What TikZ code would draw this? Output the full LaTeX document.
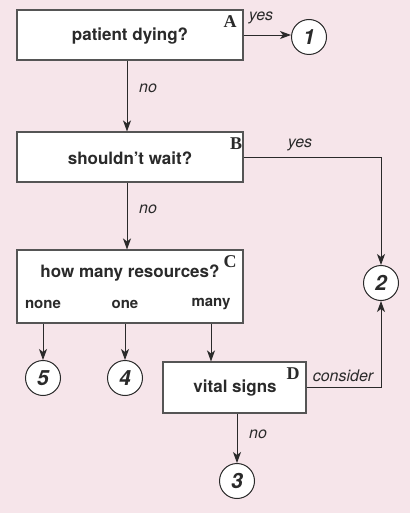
\documentclass[tikz,border=0pt]{standalone}
\usepackage{fontspec}
\setmainfont{TeX Gyre Heros}
\newfontfamily\letterfont{Liberation Serif}
\usetikzlibrary{arrows.meta}
\definecolor{bg}{HTML}{F6E5EA}
\definecolor{boxline}{HTML}{555555}
\definecolor{ink}{HTML}{2A2A2A}
\tikzset{
  box/.style={draw=boxline, line width=1.1pt, fill=white, inner sep=0pt},
  qtext/.style={font=\fontsize{17}{19}\selectfont\bfseries, text=ink, inner sep=0pt},
  letter/.style={font=\fontsize{18}{20}\selectfont\letterfont\bfseries, text=ink, inner sep=0pt},
  lab/.style={font=\fontsize{16}{18}\selectfont\itshape, text=ink, inner sep=0pt},
  opt/.style={font=\fontsize{15}{17}\selectfont\bfseries, text=ink, inner sep=0pt},
  num/.style={circle, draw=ink, line width=1pt, fill=white, minimum size=35pt, inner sep=0pt,
              font=\fontsize{21}{23}\selectfont\bfseries\itshape, text=ink},
  arr/.style={draw=ink, line width=0.9pt, -{Stealth[length=11pt,width=8pt,inset=3pt]}}
}
\begin{document}
\begin{tikzpicture}[x=1pt,y=-1pt]
\fill[bg] (0,0) rectangle (410,513);
\useasboundingbox (0,0) rectangle (410,513);

% boxes
\node[box, minimum width=226pt, minimum height=50pt] (A) at (130,35) {};
\node[box, minimum width=226pt, minimum height=50pt] (B) at (130,157) {};
\node[box, minimum width=226pt, minimum height=73pt] (C) at (130,286.5) {};
\node[box, minimum width=143pt, minimum height=51pt] (D) at (234.5,387.5) {};

% box texts
\node[qtext] (At) at (130,36) {patient dying?};
\node[qtext] (Bt) at (130,158) {shouldn’t wait?};
\node[qtext] (Ct) at (130,273) {how many resources?};
\node[qtext] (Dt) at (235,388) {vital signs};
\node[letter] (Al) at (230,22) {A};
\node[letter] (Bl) at (236,144) {B};
\node[letter] (Cl) at (230,262) {C};
\node[letter] (Dl) at (293,374) {D};
\node[opt] (none) at (43,304) {none};
\node[opt] (one) at (125,304) {one};
\node[opt] (many) at (211,304) {many};

% outcome circles
\node[num] (c1) at (309,37) {1};
\node[num] (c2) at (381,283) {2};
\node[num] (c3) at (237,481) {3};
\node[num] (c4) at (125,378) {4};
\node[num] (c5) at (43,378) {5};

% connectors
\draw[arr] (A.east) -- (A.east -| c1.west);
\draw[arr] ([xshift=-3pt]A.south) -- ([xshift=-3pt]B.north);
\draw[arr] ([xshift=-3pt]B.south) -- ([xshift=-3pt]C.north);
\draw[arr] (B.east) -| (c2.north);
\draw[arr] (c5.north |- C.south) -- (c5.north);
\draw[arr] (c4.north |- C.south) -- (c4.north);
\draw[arr] (many |- C.south) -- (many |- D.north);
\draw[arr] (D.east) -| (c2.south);
\draw[arr] (c3.north |- D.south) -- (c3.north);

% connector labels
\node[lab] (yesA) at (261,18) {yes};
\node[lab] (noA) at (148,88) {no};
\node[lab] (yesB) at (300,145) {yes};
\node[lab] (noB) at (148,209) {no};
\node[lab] (consider) at (343,376) {consider};
\node[lab] (noD) at (258,434) {no};
\end{tikzpicture}
\end{document}
